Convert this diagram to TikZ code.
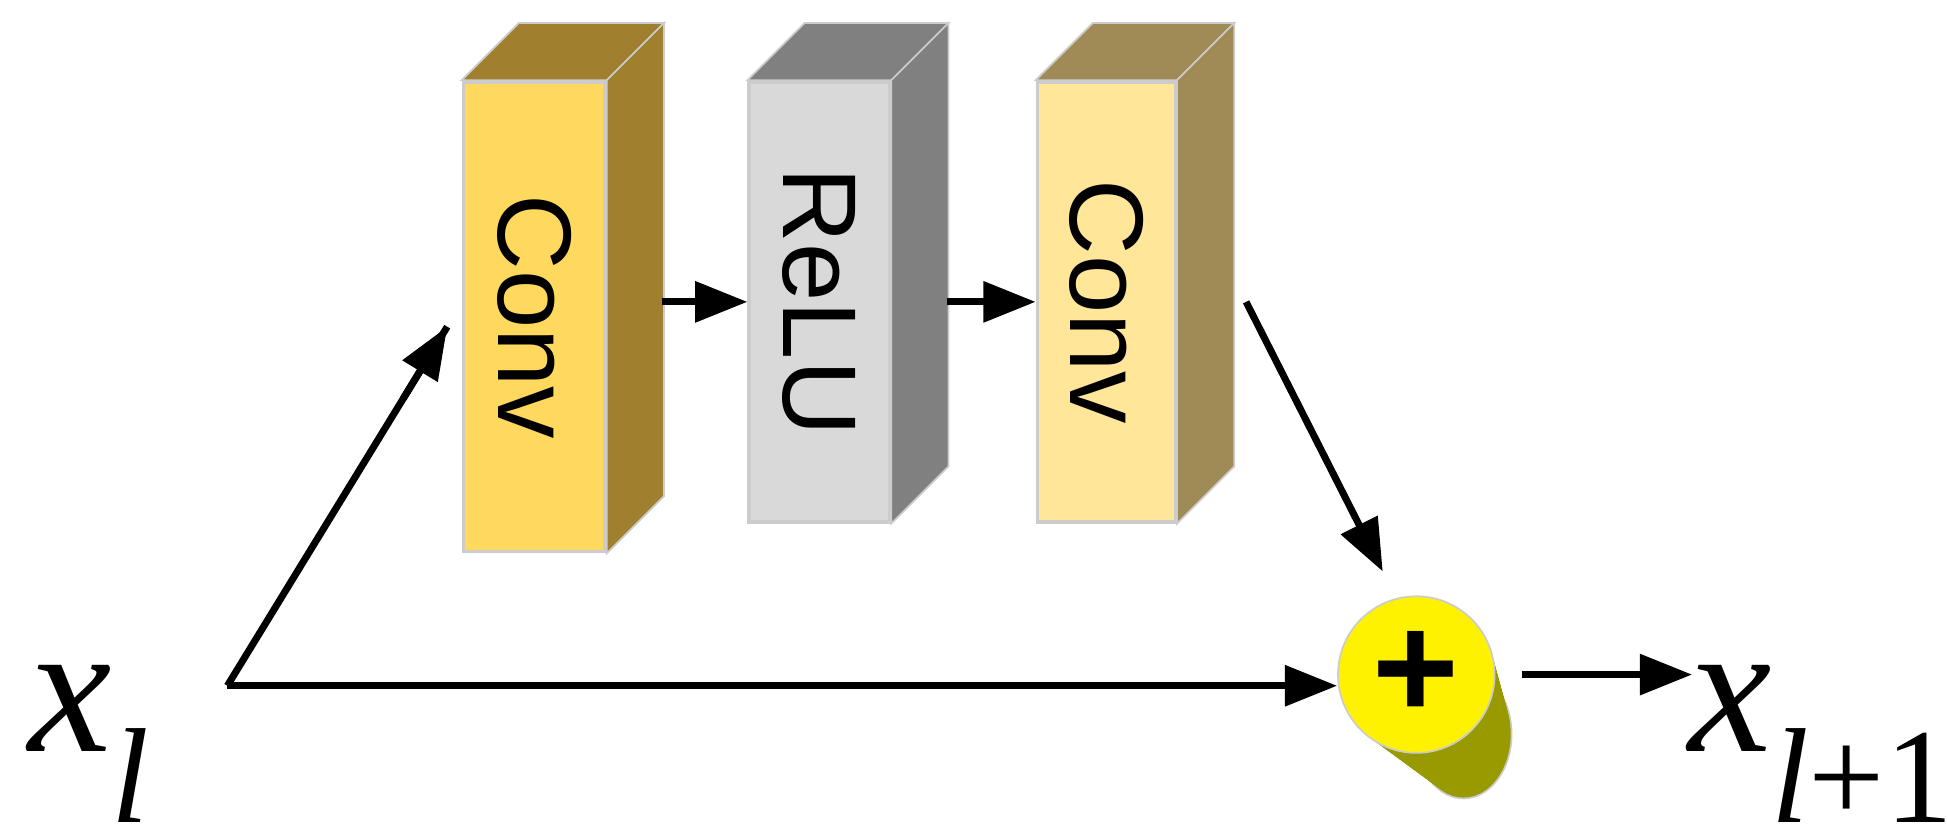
\documentclass[tikz,border=0pt]{standalone}
\usepackage{fontspec}
\setmainfont{Liberation Sans}
\newfontfamily\serifx{Liberation Serif}
\usetikzlibrary{arrows.meta,calc}
\definecolor{c1f}{HTML}{FFD95E}\definecolor{c1s}{HTML}{A07F2F}
\definecolor{c2f}{HTML}{D9D9D9}\definecolor{c2s}{HTML}{808080}
\definecolor{c3f}{HTML}{FFE699}\definecolor{c3s}{HTML}{A08B57}
\definecolor{olive}{HTML}{999900}
\tikzset{
 box/.style={draw=gray!40,line width=0.8pt,minimum width=1.13cm,minimum height=3.54cm,inner sep=0pt},
 lbl/.style={font=\fontsize{24}{26}\selectfont,rotate=-90},
 arr/.style={line width=1.6pt,-{Triangle[length=0.42cm,width=0.32cm]}},
 mth/.style={font=\serifx\fontsize{43}{45}\selectfont,inner sep=0pt}
}
\newcommand{\cube}[3]{% node, side color, offset
 \fill[#2,draw=gray!40] (#1.north west)--++(#3,#3)--($(#1.north east)+(#3,#3)$)--(#1.north east)--cycle;
 \fill[#2,draw=gray!40] (#1.north east)--++(#3,#3)--($(#1.south east)+(#3,#3)$)--(#1.south east)--cycle;}
\newcommand{\subl}[1]{\raisebox{-0.38em}{\fontsize{31}{33}\selectfont #1}}
\begin{document}
\begin{tikzpicture}
\useasboundingbox (0,0) rectangle (15.68,6.65);
\node[box,fill=c1f,minimum width=1.14cm,minimum height=3.78cm] (c1) at (4.30,4.10) {};
\node[box,fill=c2f] (r) at (6.595,4.22) {};
\node[box,fill=c3f,minimum width=1.11cm] (c2) at (8.905,4.22) {};
\cube{c1}{c1s}{0.46}
\cube{r}{c2s}{0.46}
\cube{c2}{c3s}{0.46}
\node[lbl] at (c1) {Conv};
\node[lbl] at (r) {ReLU};
\node[lbl] at (c2) {Conv};
% plus cylinder
\draw[gray!40,line width=0.8pt] (11.78,0.74) ellipse [x radius=0.38cm,y radius=0.51cm];
\foreach \t in {0,0.04,...,1.0}{
 \fill[olive] ({11.40+0.38*\t},{1.22-0.48*\t}) ellipse [x radius={0.63-0.25*\t},y radius={0.63-0.12*\t}];}
\node[circle,fill=yellow,draw=gray!40,minimum size=1.26cm,inner sep=0pt,font=\fontsize{34}{34}\selectfont\bfseries] (p) at (11.40,1.22) {+};
\node[mth,anchor=base west] (xl) at (0.22,0.60) {\textit{x}\subl{\textit{l}}};
\node[mth,anchor=base west] (xo) at (13.58,0.60) {\textit{x}\subl{\textit{l}+1}};
\coordinate (s) at (1.83,1.13);
\coordinate (a1) at (3.60,4.02);
\coordinate (o1) at (5.33,4.22);
\coordinate (o2) at (7.62,4.22);
\coordinate (o3) at (10.03,4.22);
\coordinate (e3) at (11.13,2.05);
\coordinate (o4) at (13.62,1.22);
\draw[line width=1.6pt] (s)--(a1);
\draw[arr] ($(s)!0.8!(a1)$)--(a1);
\draw[arr] (s)--(p.west|-s);
\draw[arr] (o1)--(r.west|-o1);
\draw[arr] (o2)--(c2.west|-o2);
\draw[arr] (o3)--(e3);
\draw[arr] (12.25,1.22)--(o4);
\end{tikzpicture}
\end{document}
